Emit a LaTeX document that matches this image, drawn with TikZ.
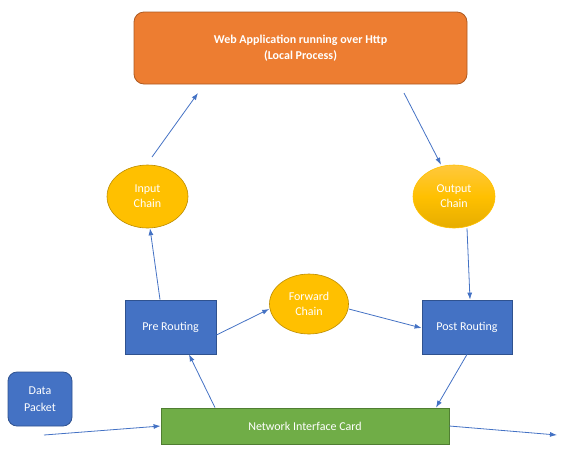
\documentclass[tikz,border=0pt]{standalone}
\usepackage{fontspec}
\setmainfont{Carlito}
\usetikzlibrary{shapes.geometric,arrows.meta}
\definecolor{orangeF}{HTML}{ED7D31}
\definecolor{orangeD}{HTML}{AE5A21}
\definecolor{blueF}{HTML}{4472C4}
\definecolor{blueD}{HTML}{2F528F}
\definecolor{greenF}{HTML}{70AD47}
\definecolor{greenD}{HTML}{507E32}
\definecolor{goldF}{HTML}{FFC000}
\definecolor{goldD}{HTML}{BC8C00}
\definecolor{goldL}{HTML}{FFC83D}
\definecolor{goldB}{HTML}{E6AD00}
\tikzset{
  txt/.style={text=white, font=\fontsize{12}{15}\selectfont, align=center, inner sep=0pt},
  webbox/.style={txt, draw=orangeD, fill=orangeF, rounded corners=10pt, line width=0.8pt, font=\fontsize{12}{16}\selectfont\bfseries},
  routebox/.style={txt, draw=blueD, fill=blueF, line width=0.8pt},
  packetbox/.style={txt, draw=blueD, fill=blueF, rounded corners=9pt, line width=0.8pt, font=\fontsize{12}{17}\selectfont},
  nicbox/.style={txt, draw=greenD, fill=greenF, line width=0.8pt},
  chain/.style={txt, ellipse, draw=goldD, fill=goldF, line width=0.6pt},
  gchain/.style={txt, ellipse, draw=goldF, top color=goldL, bottom color=goldB, middle color=goldF, line width=0.6pt},
  conn/.style={draw=blueF, line width=0.8pt, -{Latex[length=7pt,width=5pt]}}
}
\begin{document}
\begin{tikzpicture}[x=1pt,y=-1pt]
\useasboundingbox (0,0) rectangle (585,459);
\node[webbox, minimum width=333pt, minimum height=72pt] (web) at (300.5,48) {Web Application running over Http\\(Local Process)};
\node[chain, minimum width=81pt, minimum height=63pt] (input) at (147.5,196.5) {Input\\Chain};
\node[gchain, minimum width=82pt, minimum height=63pt] (output) at (454,196.5) {Output\\Chain};
\node[chain, minimum width=79pt, minimum height=60pt] (forward) at (309,304) {Forward\\Chain};
\node[routebox, minimum width=91pt, minimum height=54pt] (pre) at (170.5,327) {Pre Routing};
\node[routebox, minimum width=90pt, minimum height=54pt] (post) at (467,327) {Post Routing};
\node[packetbox, minimum width=64pt, minimum height=54pt] (packet) at (40,399) {Data\\Packet};
\node[nicbox, minimum width=288pt, minimum height=36pt] (nic) at (305,426) {Network Interface Card};
\coordinate (inS) at (44,435);
\coordinate (outE) at (557,435);
\coordinate (webIn) at (198,93);
\coordinate (webOut) at (404,93);
\coordinate (inTop) at (152,157);
\draw[conn] (inS) -- (nic.west);
\draw[conn] (nic.east) -- (outE);
\draw[conn] (nic.north -| 215,0) -- (pre.south -| 189,0);
\draw[conn] (pre.north -| 160,0) -- (input.south -| 150,0);
\draw[conn] (inTop) -- (webIn);
\draw[conn] (webOut) -- (output.north -| 441,0);
\draw[conn] (output.south -| 467,0) -- (post.north -| 470,0);
\draw[conn] (pre.east |- 0,335) -- (forward.west |- 0,309);
\draw[conn] (forward.east |- 0,309) -- (post.west |- 0,328);
\draw[conn] (post.south -| 467,0) -- (nic.north -| 436,0);
\end{tikzpicture}
\end{document}
